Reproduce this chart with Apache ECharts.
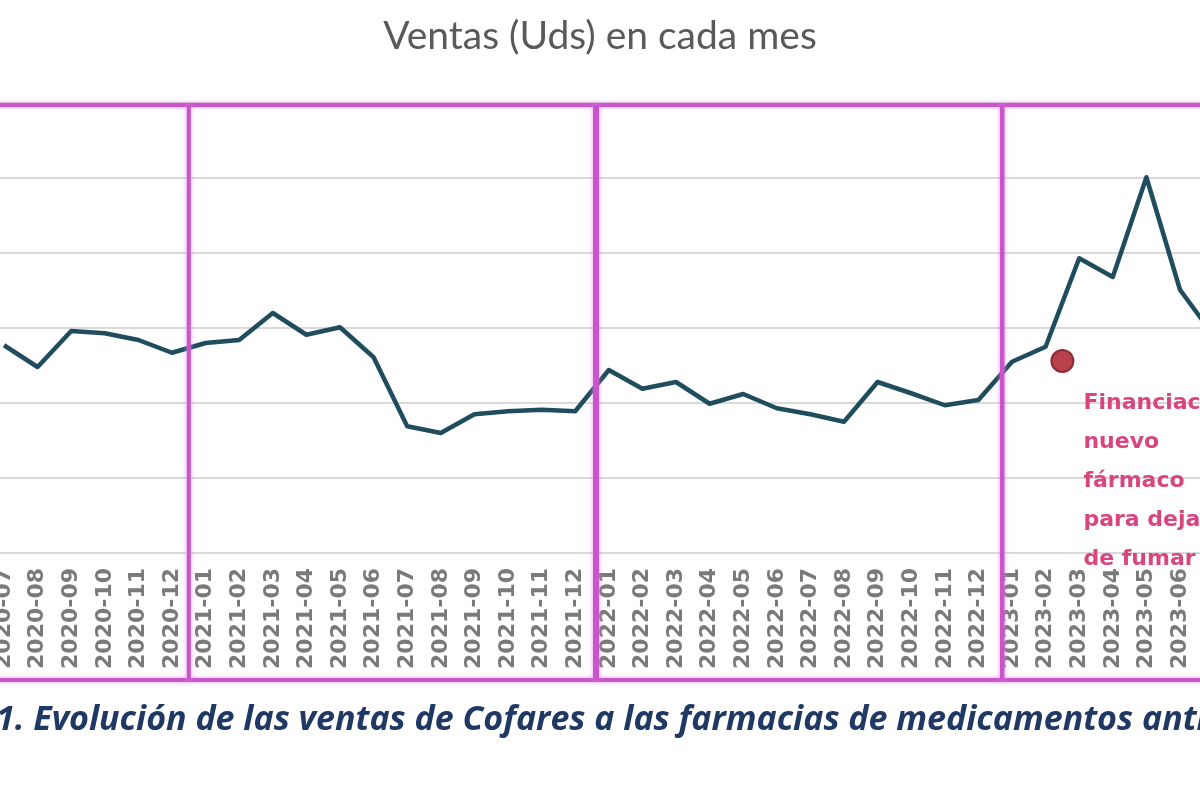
<!DOCTYPE html>
<html>
<head>
<meta charset="utf-8">
<script src="https://cdn.jsdelivr.net/npm/echarts@6/dist/echarts.min.js"></script>
<style>
html,body{margin:0;padding:0;background:#fff;}
#chart{width:1200px;height:800px;}
</style>
</head>
<body>
<div id="chart"></div>
<script>
const categories = ['2020-07','2020-08','2020-09','2020-10','2020-11','2020-12',
  '2021-01','2021-02','2021-03','2021-04','2021-05','2021-06','2021-07','2021-08','2021-09','2021-10','2021-11','2021-12',
  '2022-01','2022-02','2022-03','2022-04','2022-05','2022-06','2022-07','2022-08','2022-09','2022-10','2022-11','2022-12',
  '2023-01','2023-02','2023-03','2023-04','2023-05','2023-06','2023-07'];
const ventas = [2770,2480,2960,2930,2840,2670,
  2800,2840,3200,2910,3010,2610,1690,1600,1850,1890,1910,1890,
  2440,2190,2280,1990,2120,1930,1850,1750,2280,2130,1970,2040,
  2550,2750,3930,3680,5010,3510,2900];
const yearStarts = ['2021-01','2022-01','2023-01'];
const annotationBetween = ['2023-02','2023-03'];
const annotationValue = 2560;
const annotationText = 'Financiación\nnuevo\nfármaco\npara dejar\nde fumar';
const titleText = 'Ventas (Uds) en cada mes';
const captionText = '1. Evolución de las ventas de Cofares a las farmacias de medicamentos antitabaco';

const chart = echarts.init(document.getElementById('chart'));
chart.setOption({
  backgroundColor: '#ffffff',
  animation: false,
  title: {
    text: titleText, left: 'center', top: 12,
    textStyle: {fontFamily: 'Lato', fontSize: 39, fontWeight: 'normal', color: '#595959'}
  },
  grid: {left: -12.8, right: -30.4, top: 103, bottom: 247, containLabel: false, outerBoundsMode: 'none'},
  xAxis: {
    type: 'category', data: categories, boundaryGap: true,
    axisTick: {show: false},
    axisLine: {lineStyle: {color: '#d9d9d9', width: 2}},
    axisLabel: {rotate: 90, interval: 0, margin: 15, fontFamily: 'DejaVu Sans', fontWeight: 'bold', fontSize: 22, color: '#7a7a7a'}
  },
  yAxis: {
    type: 'value', min: 0, max: 6000, interval: 1000,
    axisLabel: {show: false}, axisTick: {show: false}, axisLine: {show: false},
    splitLine: {lineStyle: {color: '#d9d9d9', width: 2}}
  },
  series: [{
    type: 'line', data: ventas, symbol: 'none',
    lineStyle: {color: '#1f4d5e', width: 4.5, join: 'round'}
  }]
});

function px(cat, val) { return chart.convertToPixel({xAxisIndex: 0, yAxisIndex: 0}, [cat, val]); }
const yTop = 105, yBottom = 680;
const elements = [];
const pink = '#c955cc';
const glow = {shadowBlur: 4, shadowColor: 'rgba(230,140,235,0.9)'};
elements.push({type: 'line', z: 100, shape: {x1: -20, y1: yTop, x2: 1220, y2: yTop}, style: Object.assign({stroke: pink, lineWidth: 4}, glow)});
elements.push({type: 'line', z: 100, shape: {x1: -20, y1: yBottom, x2: 1220, y2: yBottom}, style: Object.assign({stroke: pink, lineWidth: 4}, glow)});
const offsets = [0, 4, 7];
const widths = [4, 6, 4.5];
yearStarts.forEach((c, i) => {
  const idx = categories.indexOf(c);
  const a = px(categories[idx - 1], 0)[0];
  const b = px(categories[idx], 0)[0];
  const x = (a + b) / 2 + offsets[i];
  elements.push({type: 'line', z: 100, shape: {x1: x, y1: yTop, x2: x, y2: yBottom}, style: Object.assign({stroke: pink, lineWidth: widths[i]}, glow)});
});
const p1 = px(annotationBetween[0], annotationValue);
const p2 = px(annotationBetween[1], annotationValue);
const dx = (p1[0] + p2[0]) / 2, dy = p1[1];
elements.push({type: 'circle', z: 110, shape: {cx: dx, cy: dy, r: 11}, style: {fill: '#b8414c', stroke: '#8c2c36', lineWidth: 2}});
elements.push({type: 'text', z: 110, x: dx + 21, y: dy + 23, style: {text: annotationText, fill: '#d8457f', font: 'bold 22px "DejaVu Sans"', lineHeight: 39, verticalAlign: 'top', align: 'left'}});
elements.push({type: 'text', z: 110, x: -4, y: 720, style: {text: captionText, fill: '#1f3864', font: 'italic bold 34px "Open Sans"', verticalAlign: 'middle', align: 'left'}});
chart.setOption({graphic: {elements: elements}});
</script>
</body>
</html>
